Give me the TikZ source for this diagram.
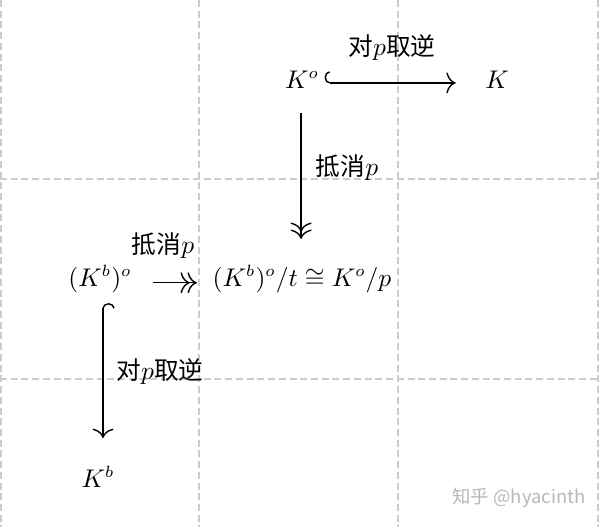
\documentclass[tikz,border=0pt]{standalone}
\usepackage{fontspec}
\newfontfamily\cjk{Noto Sans CJK SC}
\usetikzlibrary{arrows.meta}
\begin{document}
\begin{tikzpicture}[x=0.01508cm, y=-0.01508cm,
  every node/.style={font=\fontsize{10.6pt}{12.7pt}\selectfont},
  gridline/.style={draw=black!20, line width=0.8pt, dash pattern=on 3pt off 1.6pt},
  obj/.style={inner sep=0pt, anchor=base},
  lbl/.style={inner sep=0pt, font=\fontsize{10.6pt}{12.7pt}\selectfont\cjk},
  arr/.style={line width=0.6pt},
  hookarr/.style={arr, {Hooks[right,length=2.2pt,width=10pt]}-{Computer Modern Rightarrow[length=4pt,width=9pt]}},
  epiarr/.style={arr, -{Computer Modern Rightarrow[length=4pt,width=9pt,sep=-1pt]Computer Modern Rightarrow[length=4pt,width=9pt]}},
]
\useasboundingbox (0,0) rectangle (600,527);
% grid
\draw[gridline] (1,0) -- (1,527);
\draw[gridline] (199,0) -- (199,527);
\draw[gridline] (398,0) -- (398,527);
\draw[gridline] (598,0) -- (598,527);
\draw[gridline] (0,179) -- (600,179);
\draw[gridline] (0,379) -- (600,379);
% objects
\node[obj] (Ko)  at (302,88)  {$K^o$};
\node[obj] (K)   at (497,88)  {$K$};
\node[obj] (Kbo) at (100,286) {$(K^b)^o$};
\node[obj] (Q)   at (302,286) {$(K^b)^o/t\cong K^o/p$};
\node[obj] (Kb)  at (98,487)  {$K^b$};
% labels
\node[lbl] (l1) at (392,47.5) {对$p$取逆};
\node[lbl] (l2) at (347,168)  {抵消$p$};
\node[lbl] (l3) at (163,246)  {抵消$p$};
\node[lbl] (l4) at (160,372)  {对$p$取逆};
% arrows
\draw[hookarr, shorten <=2.2pt, shorten >=12.5pt]
  ([yshift=2.2pt]Ko.base east) -- ([yshift=2.2pt]K.base west);
\draw[epiarr, shorten <=10.5pt, shorten >=11.2pt]
  ([xshift=-0.4pt]Ko.south) -- ([xshift=-0.4pt]Ko.south |- Q.north);
\draw[epiarr, shorten <=8.8pt, shorten >=6.6pt]
  ([yshift=1.4pt]Kbo.base east) -- ([yshift=1.4pt]Q.base west);
\draw[hookarr, shorten <=4.4pt, shorten >=12.0pt]
  ([xshift=1.3pt]Kbo.south) -- ([xshift=1.3pt]Kbo.south |- Kb.north);
% watermark
\node[inner sep=0pt, text=black!28, font=\cjk\fontsize{7.9pt}{9pt}\selectfont] (wm) at (519,498) {知乎 @hyacinth};
\end{tikzpicture}
\end{document}
